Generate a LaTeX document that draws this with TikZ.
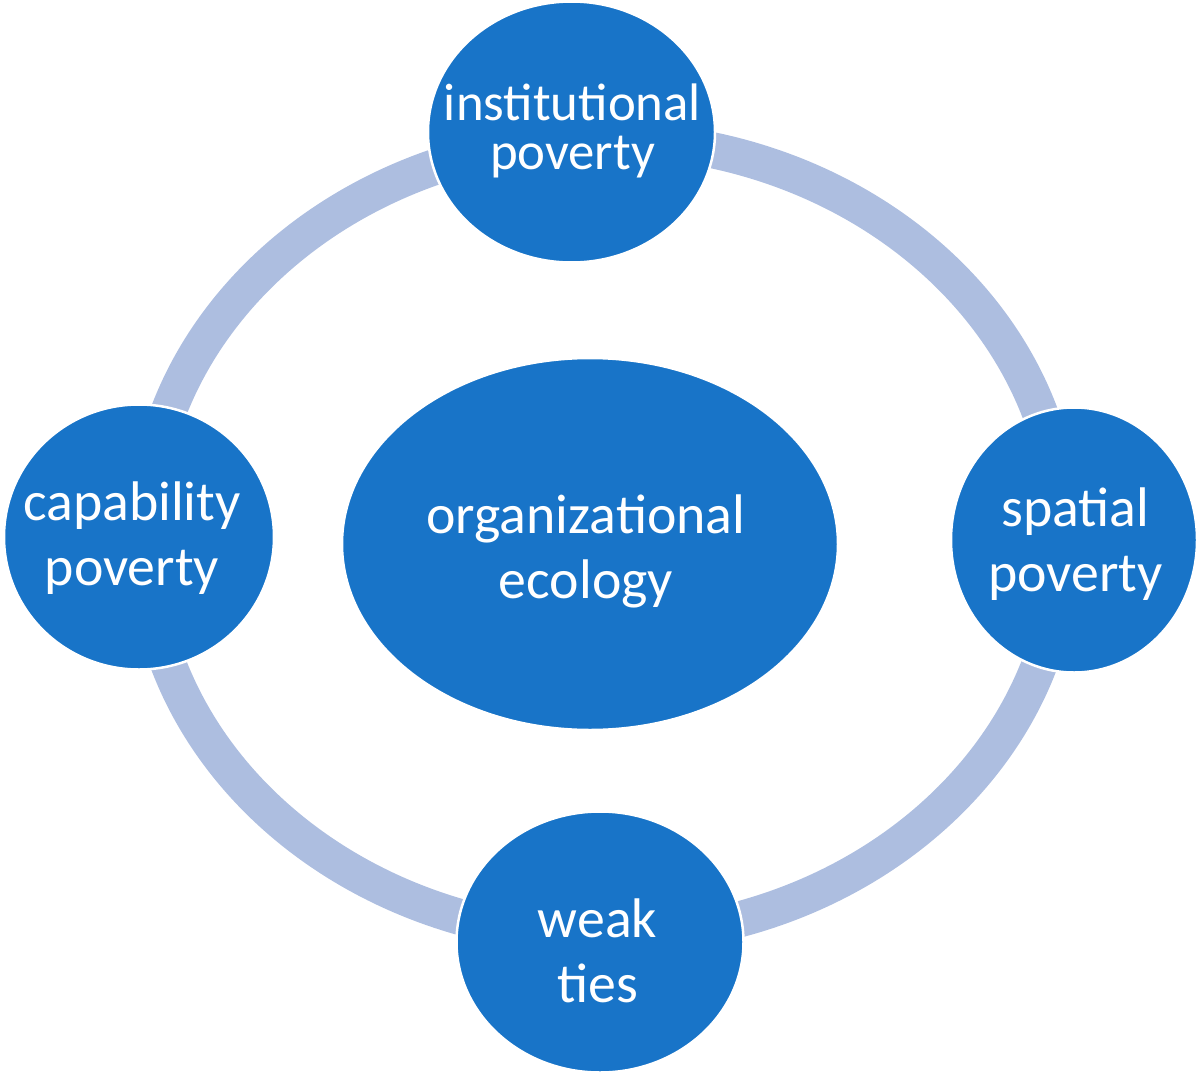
\documentclass[tikz,border=0pt]{standalone}
\usepackage{fontspec}
\setmainfont{Carlito}
\usetikzlibrary{shapes.geometric}
\definecolor{bubble}{RGB}{24,116,200}
\definecolor{ringc}{RGB}{173,190,224}
\tikzset{
  bubble/.style={ellipse, fill=bubble, draw=white, line width=2.5pt, inner sep=0pt},
  label54/.style={text=white, align=center, inner sep=0pt, font=\fontsize{55.8}{65}\selectfont},
  label51/.style={text=white, align=center, inner sep=0pt, font=\fontsize{52.8}{49}\selectfont},
}
\begin{document}
\begin{tikzpicture}[x=1pt,y=-1pt]
\useasboundingbox (0,0) rectangle (1200,1076);
% ring
\node[ellipse, draw=ringc, line width=36pt, minimum width=918pt, minimum height=798pt, inner sep=0pt] (ring) at (604,538) {};
% bubbles
\node[bubble, minimum width=287pt, minimum height=261pt] (inst) at (571.5,132) {};
\node[bubble, minimum width=270pt, minimum height=265pt] (capa) at (139,537) {};
\node[bubble, minimum width=246pt, minimum height=265pt] (spat) at (1074,540) {};
\node[bubble, minimum width=287pt, minimum height=261pt] (weak) at (600,942) {};
\node[bubble, minimum width=496pt, minimum height=372pt] (org) at (590,544) {};
% labels
\node[label51] (tinst) at (572.5,130.5) {institutional\\poverty};
\node[label54] (tcapa) at (132,538.5) {capability\\poverty};
\node[label54] (tspat) at (1075.5,544.5) {spatial\\poverty};
\node[label54] (torg) at (586,551.5) {organizational\\ecology};
\node[label54] (tweak) at (597.5,951) {weak\\ties};
\end{tikzpicture}
\end{document}
